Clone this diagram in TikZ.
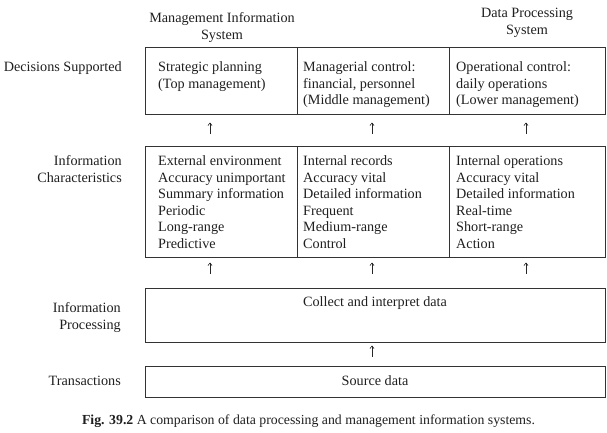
\documentclass[tikz,border=0pt]{standalone}
\usepackage{fontspec}
\setmainfont{Liberation Serif}
\usetikzlibrary{arrows.meta}
\begin{document}
\begin{tikzpicture}[x=1pt,y=-1pt,
  every node/.style={font=\fontsize{14.2}{16.6}\selectfont, inner sep=0pt, text=black!88},
  txt/.style={anchor=base west},
  rtxt/.style={anchor=base east},
  ctxt/.style={anchor=base},
  frame/.style={draw=black!80, line width=0.8pt, anchor=north west, minimum width=460pt},
  divider/.style={draw=black!80, line width=0.8pt},
  uparrow/.style={draw=black!85, line width=0.6pt, -{Straight Barb[length=2.6pt,width=4.2pt]}}
]
\useasboundingbox (0,0) rectangle (607,432);

% headers
\node[ctxt] (h1a) at (222,22.5) {Management Information};
\node[ctxt] (h1b) at (222,39.5) {System};
\node[ctxt] (h2a) at (527,17.5) {Data Processing};
\node[ctxt] (h2b) at (527,34.5) {System};

% row labels
\node[rtxt] (l1) at (122,71.5) {Decisions Supported};
\node[rtxt] (l2a) at (122,165.5) {Information};
\node[rtxt] (l2b) at (122,182) {Characteristics};
\node[rtxt] (l3a) at (121,312.5) {Information};
\node[rtxt] (l3b) at (121,329) {Processing};
\node[rtxt] (l4) at (121,385) {Transactions};

% boxes
\node[frame, minimum height=67pt] (dec) at (145,47) {};
\draw[divider] (297,47) -- (297,114);
\draw[divider] (449,47) -- (449,114);
\node[frame, minimum height=111pt] (inf) at (145,146) {};
\draw[divider] (297,146) -- (297,257);
\draw[divider] (449,146) -- (449,257);
\node[frame, minimum height=54pt] (proc) at (145,288) {};
\node[frame, minimum height=31pt] (src) at (145,366) {};

% top row text
\foreach \t [count=\i] in {Strategic planning,(Top management)}
  \node[txt] (d1-\i) at (158,{71.5+16.6*(\i-1)}) {\t};
\foreach \t [count=\i] in {Managerial control:,{financial, personnel},(Middle management)}
  \node[txt] (d2-\i) at (303,{71.5+16.6*(\i-1)}) {\t};
\foreach \t [count=\i] in {Operational control:,daily operations,(Lower management)}
  \node[txt] (d3-\i) at (456,{71.5+16.6*(\i-1)}) {\t};

% characteristics text
\foreach \t [count=\i] in {External environment,Accuracy unimportant,Summary information,Periodic,Long-range,Predictive}
  \node[txt] (c1-\i) at (158,{165.5+16.6*(\i-1)}) {\t};
\foreach \t [count=\i] in {Internal records,Accuracy vital,Detailed information,Frequent,Medium-range,Control}
  \node[txt] (c2-\i) at (303,{165.5+16.6*(\i-1)}) {\t};
\foreach \t [count=\i] in {Internal operations,Accuracy vital,Detailed information,Real-time,Short-range,Action}
  \node[txt] (c3-\i) at (456,{165.5+16.6*(\i-1)}) {\t};

% processing / source
\node[ctxt] (pt) at (375,306.5) {Collect and interpret data};
\node[ctxt] (st) at (375,385.5) {Source data};

% arrows
\foreach \x [count=\i] in {210,372,526} {
  \coordinate (a1s-\i) at (\x,133.5);
  \coordinate (a1e-\i) at (\x,122.5);
  \draw[uparrow] (a1s-\i) -- (a1e-\i);
  \coordinate (a2s-\i) at (\x,273.5);
  \coordinate (a2e-\i) at (\x,262.5);
  \draw[uparrow] (a2s-\i) -- (a2e-\i);
}
\coordinate (a3s) at (372,356.5);
\coordinate (a3e) at (372,345.5);
\draw[uparrow] (a3s) -- (a3e);

% caption
\node[ctxt, font=\fontsize{13.8}{16}\selectfont] (cap) at (308.5,424.5) {\textbf{Fig. 39.2} A comparison of data processing and management information systems.};
\end{tikzpicture}
\end{document}
